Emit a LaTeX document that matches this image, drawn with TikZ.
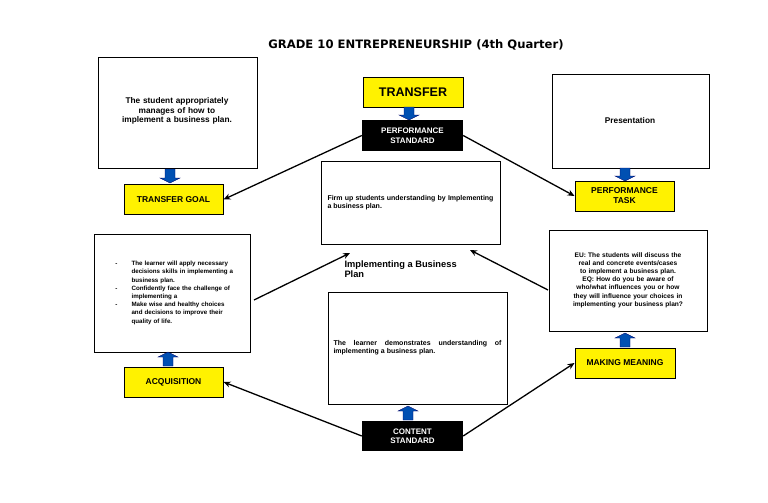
\documentclass[tikz,border=0pt]{standalone}
\usepackage{fontspec}
\setmainfont{Liberation Sans}
\newfontfamily\titlefont{DejaVu Sans}
\usetikzlibrary{arrows.meta}
\begin{document}
\begin{tikzpicture}[x=1pt,y=-1pt,
  every node/.append style={execute at begin node={\hyphenpenalty=10000\exhyphenpenalty=10000}},
  wbox/.style={draw=black,line width=1pt,fill=white},
  ybox/.style={draw=black,line width=1pt,fill=yellow,font=\bfseries\fontsize{8.5}{10}\selectfont,align=center},
  kbox/.style={fill=black,text=white,font=\bfseries\fontsize{8}{9.5}\selectfont,align=center},
  conn/.style={line width=1.3pt,-{Stealth[length=7pt,width=6pt]}},
  barrow/.style={fill=blue!55!cyan!70!black,draw=blue!40!black,line width=0.4pt}]
\useasboundingbox (0,0) rectangle (768,503);
\newcommand{\bdown}[3]{\draw[barrow] (#1-5,#2) -- (#1+5,#2) -- (#1+5,#3-5) -- (#1+10,#3-5) -- (#1,#3) -- (#1-10,#3-5) -- (#1-5,#3-5) -- cycle;}
\newcommand{\bup}[3]{\draw[barrow] (#1-5,#2) -- (#1+5,#2) -- (#1+5,#3+5) -- (#1+10,#3+5) -- (#1,#3) -- (#1-10,#3+5) -- (#1-5,#3+5) -- cycle;}
\node[font=\titlefont\bfseries\fontsize{11.6}{13}\selectfont] (title) at (416,45) {GRADE 10 ENTREPRENEURSHIP (4th Quarter)};
% boxes
\draw[wbox] (98,58) rectangle (257,168);
\node[font=\bfseries\fontsize{8.3}{9.5}\selectfont,align=center,text width=145pt] (tgt) at (177,111) {The student appropriately manages of how to implement a business plan.};
\node[ybox,minimum width=99pt,minimum height=30pt] (tg) at (173.5,199.5) {TRANSFER GOAL};
\node[ybox,minimum width=100pt,minimum height=30pt,font=\bfseries\fontsize{12.5}{14}\selectfont] (tr) at (413,92) {TRANSFER};
\node[kbox,minimum width=101pt,minimum height=31pt] (ps) at (412.5,135.5) {PERFORMANCE\\STANDARD};
\draw[wbox] (552,74) rectangle (709,168);
\node[font=\bfseries\fontsize{8.3}{9.5}\selectfont] (pres) at (630,121) {Presentation};
\node[ybox,minimum width=99pt,minimum height=30pt] (pt) at (624.5,196) {PERFORMANCE\\TASK};
\draw[wbox] (321,161) rectangle (500,244);
\node[font=\bfseries\fontsize{7}{8}\selectfont,align=justify,text width=166pt] (ct) at (410.5,203) {Firm up students understanding by Implementing a business plan.};
\node[font=\bfseries\fontsize{9.3}{10.5}\selectfont,align=left,anchor=north west] (ib) at (341,257) {Implementing a Business\\Plan};
\draw[wbox] (94,234) rectangle (250,352);
\node[font=\bfseries\fontsize{6.2}{8.2}\selectfont,anchor=north west,text width=124pt] (acqt) at (110,254) {%
\begin{list}{-}{\leftmargin=18pt\labelsep=14pt\itemsep=0pt\parsep=0pt\topsep=0pt}\raggedright
\item The learner will apply necessary decisions skills in implementing a business plan.
\item Confidently face the challenge of implementing a
\item Make wise and healthy choices and decisions to improve their quality of life.
\end{list}};
\node[ybox,minimum width=99pt,minimum height=30pt] (acq) at (173.5,382) {ACQUISITION};
\draw[wbox] (549,230) rectangle (707,331);
\node[font=\bfseries\fontsize{6.6}{8.2}\selectfont,align=center,text width=145pt] (eu) at (628,280) {EU: The students will discuss the real and concrete events/cases to implement a business plan.\\EQ: How do you be aware of who/what influences you or how they will influence your choices in implementing your business plan?};
\node[ybox,minimum width=100pt,minimum height=30pt] (mm) at (625,363) {MAKING MEANING};
\draw[wbox] (328,292) rectangle (507,404);
\node[font=\bfseries\fontsize{7}{8}\selectfont,align=justify,text width=168pt] (bt) at (417.5,348) {The learner demonstrates understanding of implementing a business plan.};
\node[kbox,minimum width=101pt,minimum height=30pt] (cs) at (412.5,436) {CONTENT\\STANDARD};
% block arrows
\bdown{170}{169}{183}
\bdown{409}{107}{120}
\bdown{625}{168}{181}
\bup{168}{366}{352}
\bup{625}{347}{333}
\bup{408}{420}{406}
% connectors
\coordinate (a1) at (350,253);
\coordinate (a2) at (470,250);
\draw[conn] (ps.west) -- (tg.east);
\draw[conn] (ps.east) -- (pt.west);
\draw[conn] (254,300) -- (a1);
\draw[conn] (548,290) -- (a2);
\draw[conn] (cs.west) -- (acq.east);
\draw[conn] (cs.east) -- (mm.west);
\end{tikzpicture}
\end{document}
